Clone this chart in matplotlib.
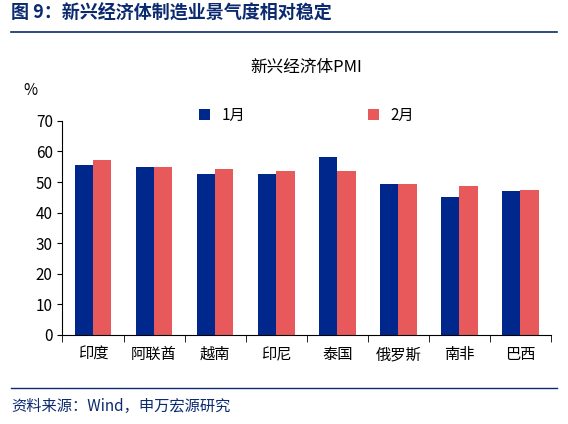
import matplotlib.pyplot as plt
import numpy as np

plt.rcParams['font.family'] = ['Noto Sans CJK SC', 'DejaVu Sans']

countries = ['印度', '阿联酋', '越南', '印尼', '泰国', '俄罗斯', '南非', '巴西']
jan = [55.6, 55.0, 52.6, 52.6, 58.2, 49.4, 45.1, 47.0]
feb = [57.1, 55.0, 54.3, 53.7, 53.6, 49.5, 48.7, 47.4]

fig = plt.figure(figsize=(5.68, 4.24), dpi=100)
fig.text(0.02, 0.955, '图 9：新兴经济体制造业景气度相对稳定', fontsize=13, fontweight='bold', color='#0b2a6f')
fig.add_artist(plt.Line2D([0.02, 0.98], [0.925, 0.925], color='#0b2a6f', lw=1.2))
fig.add_artist(plt.Line2D([0.02, 0.98], [0.085, 0.085], color='#0b2a6f', lw=1.0))
fig.text(0.02, 0.03, '资料来源：Wind，申万宏源研究', fontsize=11, color='#0b2a6f')

ax = fig.add_axes([0.11, 0.21, 0.86, 0.505])
x = np.arange(len(countries))
w = 0.3
ax.bar(x - w / 2, jan, w, color='#00288c', label='1月')
ax.bar(x + w / 2, feb, w, color='#e8595c', label='2月')
ax.set_ylim(0, 70)
ax.set_xlim(-0.5, len(countries) - 0.5)
ax.set_yticks(range(0, 71, 10))
ax.set_xticks(x)
ax.set_xticklabels(countries, fontsize=11)
ax.tick_params(axis='y', labelsize=11)
ax.tick_params(axis='x', length=0, pad=8)
ax.set_xticks(np.arange(-0.5, len(countries)), minor=True)
ax.tick_params(axis='x', which='minor', length=5, direction='out')
for s in ['top', 'right']:
    ax.spines[s].set_visible(False)
ax.text(-0.08, 1.12, '%', transform=ax.transAxes, fontsize=11)
fig.text(0.54, 0.83, '新兴经济体PMI', ha='center', fontsize=12)
ax.legend(loc='upper center', bbox_to_anchor=(0.5, 1.13), ncol=2, frameon=False,
          fontsize=11, handlelength=0.7, handleheight=0.7, columnspacing=8)

fig.savefig('out.png', dpi=100)
